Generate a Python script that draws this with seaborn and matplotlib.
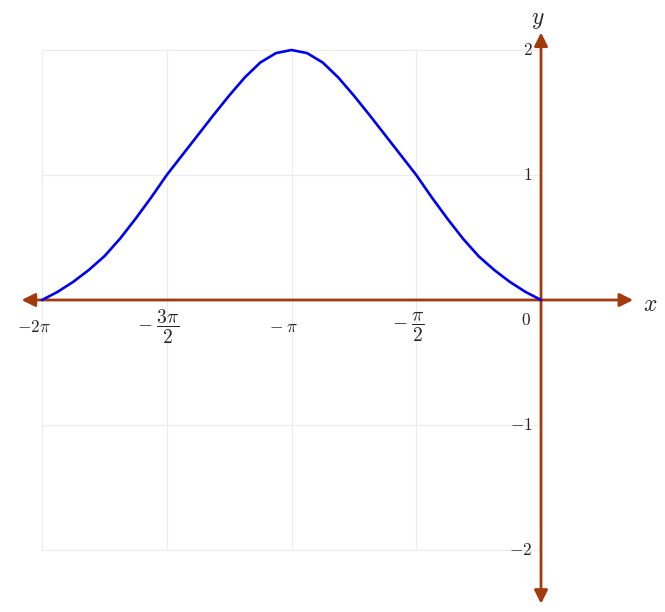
import numpy as np
import pandas as pd
import matplotlib
matplotlib.use("Agg")
import matplotlib.pyplot as plt
import seaborn as sns

# curve values, every pi/16 from -2pi to -pi (rising half);
# the falling half from -pi to 0 mirrors it
x_steps = list(range(-32, 1))
y_rise = [0.00, 0.065, 0.145, 0.24, 0.35, 0.49, 0.65, 0.82, 1.00,
          1.16, 1.32, 1.48, 1.635, 1.78, 1.90, 1.975, 2.00]
y_vals = y_rise + y_rise[-2::-1]

x_ticks = [-2 * np.pi, -1.5 * np.pi, -np.pi, -0.5 * np.pi]
x_labels = [r"$-2\pi$", r"$-\;\dfrac{3\pi}{2}$", r"$-\;\pi$", r"$-\;\dfrac{\pi}{2}$"]
x_label_sizes = [12.5, 14, 12.5, 14]
y_ticks = [2, 1, -1, -2]
y_labels = [r"$2$", r"$1$", r"$-1$", r"$-2$"]
grid_x = [-2 * np.pi, -1.5 * np.pi, -np.pi, -0.5 * np.pi, 0]
grid_y = [-2, -1, 0, 1, 2]

df = pd.DataFrame({"x": np.array(x_steps) * np.pi / 16, "y": y_vals})

sns.set_style("white")
plt.rcParams["mathtext.fontset"] = "cm"

axis_col = "#a33a0e"

fig = plt.figure(figsize=(6.65, 6.12), dpi=100)
ax = fig.add_axes([0, 0, 1, 1])
ax.set_xlim(-6.812, 1.561)
ax.set_ylim(-2.496, 2.4)
ax.axis("off")

# light grid
ax.vlines(grid_x, -2, 2, color="#ececec", lw=0.8, zorder=0)
ax.hlines(grid_y, -2 * np.pi, 0, color="#ececec", lw=0.8, zorder=0)

# axes with arrows
ax.annotate("", xy=(1.16, 0), xytext=(-6.54, 0),
            arrowprops=dict(arrowstyle="<|-|>", color=axis_col, lw=2,
                            mutation_scale=20, shrinkA=0, shrinkB=0))
ax.annotate("", xy=(0, 2.14), xytext=(0, -2.43),
            arrowprops=dict(arrowstyle="<|-|>", color=axis_col, lw=2,
                            mutation_scale=20, shrinkA=0, shrinkB=0))

sns.lineplot(data=df, x="x", y="y", color="#0000ee", lw=1.9, ax=ax, zorder=3)

for xt, lab, fs in zip(x_ticks, x_labels, x_label_sizes):
    ax.text(xt - 0.1, -0.216, lab, ha="center", va="center", fontsize=fs)
for yt, lab in zip(y_ticks, y_labels):
    ax.text(-0.11, yt, lab, ha="right", va="center", fontsize=12.5)
ax.text(-0.19, -0.16, r"$0$", ha="center", va="center", fontsize=12.5)

ax.text(1.37, -0.03, r"$x$", ha="center", va="center", fontsize=17)
ax.text(-0.04, 2.25, r"$y$", ha="center", va="center", fontsize=17)

fig.savefig("out.png", dpi=100)
